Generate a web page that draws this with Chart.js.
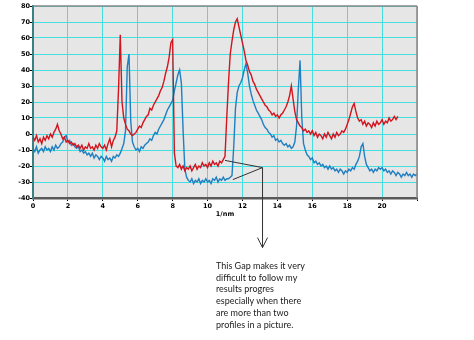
<!DOCTYPE html>
<html><head><meta charset="utf-8">
<script src="https://cdn.jsdelivr.net/npm/chart.js@4"></script>
<style>
html,body{margin:0;padding:0;background:#fff;}
#wrap{position:relative;width:474px;height:340px;}
#note{position:absolute;left:216px;top:260px;font:9px/11.7px Lato, sans-serif;color:#222;white-space:nowrap;}
</style></head><body>
<div id="wrap"><canvas id="c" width="474" height="340"></canvas><div id="note"></div></div>
<script>
const xs = [0,0.1,0.2,0.3,0.4,0.5,0.6,0.7,0.8,0.9,
1,1.1,1.2,1.3,1.4,1.5,1.6,1.7,1.8,1.9,
2,2.1,2.2,2.3,2.4,2.5,2.6,2.7,2.8,2.9,
3,3.1,3.2,3.3,3.4,3.5,3.6,3.7,3.8,3.9,
4,4.1,4.2,4.3,4.4,4.5,4.6,4.7,4.8,4.9,
5,5.1,5.2,5.3,5.4,5.5,5.6,5.7,5.8,5.9,
6,6.1,6.2,6.3,6.4,6.5,6.6,6.7,6.8,6.9,
7,7.1,7.2,7.3,7.4,7.5,7.6,7.7,7.8,7.9,
8,8.1,8.2,8.3,8.4,8.5,8.6,8.7,8.8,8.9,
9,9.1,9.2,9.3,9.4,9.5,9.6,9.7,9.8,9.9,
10,10.1,10.2,10.3,10.4,10.5,10.6,10.7,10.8,10.9,
11,11.1,11.2,11.3,11.4,11.5,11.6,11.7,11.8,11.9,
12,12.1,12.2,12.3,12.4,12.5,12.6,12.7,12.8,12.9,
13,13.1,13.2,13.3,13.4,13.5,13.6,13.7,13.8,13.9,
14,14.1,14.2,14.3,14.4,14.5,14.6,14.7,14.8,14.9,
15,15.1,15.2,15.3,15.4,15.5,15.6,15.7,15.8,15.9,
16,16.1,16.2,16.3,16.4,16.5,16.6,16.7,16.8,16.9,
17,17.1,17.2,17.3,17.4,17.5,17.6,17.7,17.8,17.9,
18,18.1,18.2,18.3,18.4,18.5,18.6,18.7,18.8,18.9,
19,19.1,19.2,19.3,19.4,19.5,19.6,19.7,19.8,19.9,
20,20.1,20.2,20.3,20.4,20.5,20.6,20.7,20.8,20.9,
21,21.1,21.2,21.3,21.4,21.5,21.6,21.7,21.8,21.9,22];

const redProfile = [
-2,-4,-1,-5,-3,-6,-2,-4,-1,-3,
0,-2,1,3,6,2,0,-3,-2,-5,
-4,-6,-5,-7,-6,-8,-7,-9,-7,-10,
-8,-9,-6,-9,-8,-10,-7,-9,-6,-8,
-9,-7,-10,-6,-3,-8,-4,-2,2,28,
62,20,10,6,3,2,0,-1,0,1,
3,5,4,7,9,11,12,16,15,18,
20,22,24,27,29,33,38,42,48,57,
59,-12,-20,-21,-19,-22,-20,-23,-21,-22,
-20,-23,-21,-19,-22,-20,-21,-18,-20,-19,
-21,-18,-20,-17,-19,-18,-20,-17,-18,-16,
-14,10,32,50,58,65,70,72,67,62,
57,52,46,43,39,37,33,31,28,26,
24,22,20,18,17,15,14,12,13,11,
12,10,12,13,15,17,20,24,30,22,
14,9,7,5,4,2,3,1,2,0,
2,-1,1,-2,0,-1,-3,0,-2,1,
-1,-3,0,-2,1,-1,0,2,1,3,
6,9,13,17,19,14,10,8,9,6,
8,5,7,6,4,7,5,8,6,7,
9,6,8,7,10,8,9,11,9,11,
null,null,null,null,null,null,null,null,null,null,null];

const blueProfile = [
-9,-11,-8,-12,-10,-9,-11,-8,-10,-9,
-11,-8,-10,-7,-9,-8,-6,-5,-2,-1,
-5,-4,-7,-6,-8,-9,-8,-11,-10,-12,
-11,-13,-12,-14,-12,-15,-13,-14,-16,-14,
-15,-17,-14,-16,-15,-17,-14,-15,-13,-14,
-12,-9,-6,2,42,50,8,-5,-8,-10,
-9,-11,-8,-9,-7,-6,-5,-3,-4,-1,
1,0,3,5,7,9,12,15,17,19,
21,27,32,37,40,32,2,-22,-27,-29,
-30,-28,-31,-29,-30,-28,-31,-29,-30,-28,
-30,-29,-31,-28,-29,-27,-30,-28,-29,-27,
-29,-28,-28,-27,-26,-8,16,26,30,32,
35,40,44,38,30,25,21,18,15,13,
11,9,6,4,3,1,0,-2,-1,-4,
-3,-5,-4,-6,-7,-6,-8,-7,-9,-8,
-5,5,28,46,10,-6,-10,-13,-14,-16,
-15,-18,-17,-19,-18,-20,-19,-21,-20,-22,
-20,-22,-21,-23,-22,-24,-22,-23,-25,-23,
-24,-22,-23,-21,-22,-19,-17,-14,-8,-6,
-14,-19,-21,-23,-22,-24,-22,-23,-21,-22,
-21,-23,-22,-24,-23,-25,-23,-24,-26,-24,
-25,-27,-25,-26,-24,-26,-25,-27,-25,-26,-25];

const xRange = [0, 22];
const xLabelMax = 20;
const yRange = [-40, 80];
const xStep = 2;
const yStep = 10;
const xTitle = '1/nm';
const noteLines = ['This Gap makes it very','difficult to follow my','results progres','especially when there','are more than two','profiles in a picture.'];
// annotation anchors in data units
const gapRedEnd = [11.0, -16.5];
const gapBlueEnd = [11.45, -28.5];
const gapBend = [13.15, -21];
const arrowTipY = -71;

document.getElementById('note').innerHTML = noteLines.join('<br>');

const toPts = arr => arr.map((v, i) => ({x: xs[i], y: v}));

const bgPlugin = {
  id: 'bg',
  beforeDraw(chart) {
    const {ctx, chartArea: a} = chart;
    ctx.save();
    ctx.fillStyle = '#e6e6e6';
    ctx.fillRect(a.left, a.top, a.right - a.left, a.bottom - a.top);
    ctx.restore();
  },
  afterDraw(chart) {
    const {ctx, chartArea: a, scales: {x, y}} = chart;
    ctx.save();
    ctx.strokeStyle = '#888';
    ctx.lineWidth = 1.5;
    ctx.beginPath();
    ctx.moveTo(a.left, a.top); ctx.lineTo(a.right, a.top);
    ctx.moveTo(a.right, a.top); ctx.lineTo(a.right, a.bottom);
    ctx.stroke();
    const px = v => x.getPixelForValue(v), py = v => y.getPixelForValue(v);
    ctx.strokeStyle = '#333';
    ctx.lineWidth = 1;
    ctx.beginPath();
    ctx.moveTo(px(gapRedEnd[0]), py(gapRedEnd[1]));
    ctx.lineTo(px(gapBend[0]), py(gapBend[1]));
    ctx.lineTo(px(gapBlueEnd[0]), py(gapBlueEnd[1]));
    ctx.moveTo(px(gapBend[0]), py(gapBend[1]));
    ctx.lineTo(px(gapBend[0]), py(arrowTipY));
    const tx = px(gapBend[0]), ty = py(arrowTipY);
    ctx.moveTo(tx - 5, ty - 10); ctx.lineTo(tx, ty); ctx.lineTo(tx + 5, ty - 10);
    ctx.stroke();
    ctx.restore();
  }
};

const tickFont = {family: 'DejaVu Sans', size: 6.5, weight: 'bold'};

new Chart(document.getElementById('c'), {
  type: 'line',
  data: {
    datasets: [
      {data: toPts(redProfile), borderColor: '#d2141e', borderWidth: 1.4, pointRadius: 0, tension: 0, spanGaps: false},
      {data: toPts(blueProfile), borderColor: '#1f7fc0', borderWidth: 1.4, pointRadius: 0, tension: 0}
    ]
  },
  options: {
    responsive: false,
    devicePixelRatio: 1,
    animation: false,
    events: [],
    layout: {padding: {left: 0, top: 6, right: 57, bottom: 122}},
    plugins: {legend: {display: false}, tooltip: {enabled: false}},
    scales: {
      x: {
        type: 'linear', min: xRange[0], max: xRange[1],
        afterFit: s => { s.height = 20; },
        ticks: {stepSize: xStep, autoSkip: false, maxRotation: 0, padding: 1, color: '#000', font: tickFont,
          callback: v => (v > xLabelMax ? '' : v)},
        grid: {color: '#45dfe0', lineWidth: 1, tickLength: 3, tickColor: '#000'},
        border: {color: '#5a5a5a', width: 2.5},
        title: {display: true, text: xTitle, color: '#000', font: tickFont, padding: {top: 0, bottom: 0}}
      },
      y: {
        min: yRange[0], max: yRange[1],
        afterFit: s => { s.width = 33; },
        ticks: {stepSize: yStep, autoSkip: false, padding: 0, color: '#000', font: tickFont},
        grid: {color: '#45dfe0', lineWidth: 1, tickLength: 3, tickColor: '#000'},
        border: {color: '#3c8080', width: 2}
      }
    }
  },
  plugins: [bgPlugin]
});
</script>
</body></html>
